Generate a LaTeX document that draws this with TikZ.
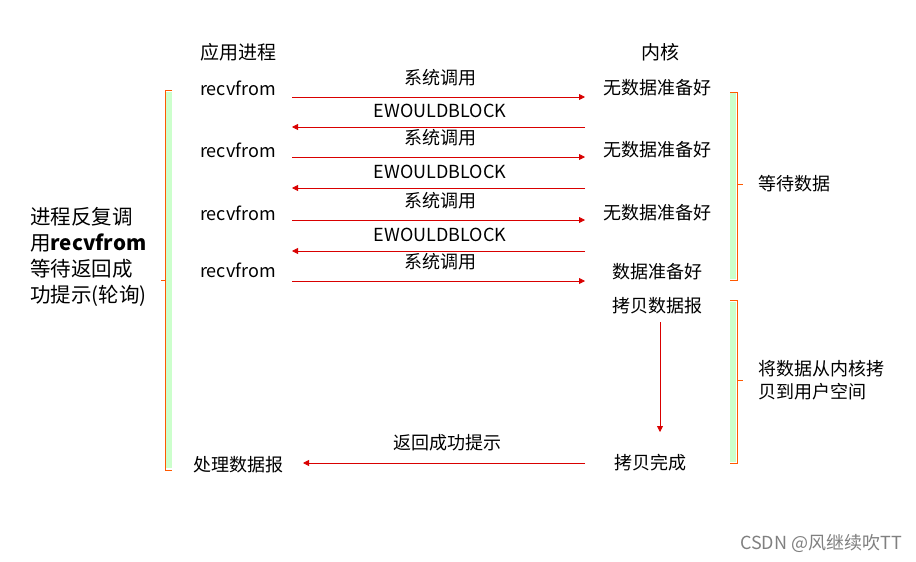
\documentclass[tikz,border=0pt]{standalone}
\usepackage{fontspec}
\setmainfont{Noto Sans CJK SC}
\usetikzlibrary{arrows.meta}
\begin{document}
\begin{tikzpicture}[x=1pt,y=-1pt,
  txt/.style={font=\fontsize{18}{23}\selectfont,inner sep=1pt},
  msg/.style={draw=red!85!black,line width=0.8pt,-{Triangle[length=6pt,width=6pt]}},
  brk/.style={draw=orange!70!red,line width=0.8pt},
  strip/.style={fill=green!20,draw=none}]
\useasboundingbox (0,0) rectangle (916,562);
\node[txt,font=\fontsize{19}{20}\selectfont] (hp) at (238,52) {应用进程};
\node[txt,font=\fontsize{19}{20}\selectfont] (hk) at (660,52) {内核};
\foreach \i/\y in {1/88,2/150,3/213,4/270} \node[txt] (r\i) at (238,\y) {recvfrom};
\foreach \i/\y in {1/88,2/150,3/213} \node[txt] (k\i) at (657,\y) {无数据准备好};
\node[txt] (k4) at (657,272) {数据准备好};
\node[txt] (cp) at (657,306) {拷贝数据报};
\node[txt] (cd) at (650,463) {拷贝完成};
\node[txt] (done) at (238,465) {处理数据报};
\foreach \i/\y in {1/97,2/157,3/220,4/281}{
  \coordinate (a\i) at (292,\y); \coordinate (b\i) at (585,\y);
  \draw[msg] (a\i) -- (b\i);
  \node[txt] (s\i) at (440,\y-19) {系统调用};}
\foreach \i/\y in {1/127,2/188,3/251}{
  \coordinate (c\i) at (585,\y); \coordinate (d\i) at (292,\y);
  \draw[msg] (c\i) -- (d\i);
  \node[txt] (e\i) at (440,\y-16) {EWOULDBLOCK};}
\coordinate (dt) at (660,322); \coordinate (db) at (660,432);
\draw[msg] (dt) -- (db);
\coordinate (rs) at (585,463); \coordinate (re) at (303,463);
\draw[msg] (rs) -- (re);
\node[txt] (rt) at (447,443) {返回成功提示};
% left bracket
\fill[strip] (166,92) rectangle (172,468);
\draw[brk] (172,90) -- (165,90) -- (165,470) -- (172,470);
\draw[brk] (165,280) -- (161,280);
\node[txt,align=left,anchor=west,font=\fontsize{20.5}{26}\selectfont] (lt) at (29,257) {进程反复调\\用\textbf{recvfrom}\\等待返回成\\功提示(轮询)};
% right brackets
\fill[strip] (730,93) rectangle (736,279);
\draw[brk] (730,92) -- (737,92) -- (737,280) -- (730,280);
\draw[brk] (737,184) -- (743,184);
\node[txt,anchor=west] (w1) at (757,184) {等待数据};
\fill[strip] (730,302) rectangle (736,462);
\draw[brk] (730,300) -- (737,300) -- (737,463) -- (730,463);
\draw[brk] (737,380) -- (743,380);
\node[txt,align=left,anchor=west] (w2) at (757,380) {将数据从内核拷\\贝到用户空间};
\node[txt,text=gray,anchor=east] (wm) at (903,543) {CSDN @风继续吹TT};
\end{tikzpicture}
\end{document}
